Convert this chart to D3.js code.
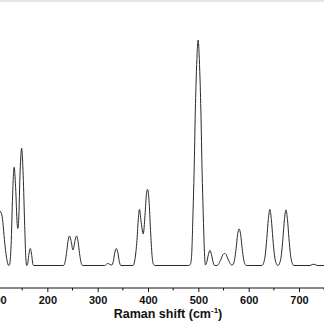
<!DOCTYPE html>
<html>
<head>
<meta charset="utf-8">
<script src="https://cdn.jsdelivr.net/npm/d3@7"></script>
<style>
  html, body { margin: 0; padding: 0; background: #fff; }
  svg { display: block; }
  text { font-family: "Liberation Sans", Arial, sans-serif; font-weight: bold; fill: #111; }
</style>
</head>
<body>
<svg id="chart" width="324" height="324"></svg>
<script>
// spectrum points (Raman shift, intensity in arb. units)
const shift = [
  100, 104, 106, 108, 111, 114, 117, 120, 123, 125, 128, 131, 134, 137, 140, 141.5, 143, 146, 149, 152, 155, 157, 159, 161, 163, 166, 169, 171, 173,
  232, 235, 238, 241, 244, 247, 251, 255, 258, 261, 264, 267, 270,
  314, 318, 321, 324, 328, 331, 334, 337, 340, 343, 346,
  370, 374, 378, 381, 383, 386, 390.5, 394, 397, 399, 402, 405, 408, 411, 414,
  480, 484, 486.5, 489.5, 491.5, 494, 496.5, 499.5, 502.5, 505, 507.5, 509.5, 512.5, 514, 517, 520, 523, 526, 529, 532,
  537, 542, 546, 549, 552, 555, 558, 562, 566, 569, 572, 575, 578, 581, 584, 587, 590, 593, 596,
  626, 630, 633, 636, 639, 642, 645, 648, 651, 654, 658, 662, 665, 668, 671, 674, 677, 680, 683, 686, 690,
  722, 726, 729, 732, 736, 760
];
const intensity = [
  40, 50, 54, 53, 46, 30, 15, 5, 0, 1, 20, 70, 98, 78, 42, 37, 45, 95, 117, 90, 40, 10, 0, 2, 10, 17, 10, 2, 0,
  0, 3, 12, 24, 29.5, 25, 15.5, 25, 29.5, 24, 12, 3, 0,
  0, 1.5, 2, 1, 0.5, 4, 13, 17, 13, 4, 0,
  0, 6, 25, 48, 56, 45, 31.5, 50, 72, 76, 65, 35, 10, 1, 0,
  0, 1, 9, 55, 92, 155, 198, 225, 198, 155, 92, 55, 9, 0.5, 4, 11, 15, 11, 4, 0,
  0, 3, 7.5, 11, 12, 11, 7.5, 3, 0.5, 1, 6, 17, 31, 36.5, 31, 17, 6, 1, 0,
  0, 3, 11, 27, 46, 56, 46, 27, 11, 3, 0, 3, 11, 27, 46, 55.5, 46, 27, 11, 3, 0,
  0, 1, 1.2, 1, 0, 0
];
const majorTicks = [100, 200, 300, 400, 500, 600, 700];
const minorTicks = [150, 250, 350, 450, 550, 650, 750];

const svg = d3.select('#chart');
svg.append('rect').attr('width', 324).attr('height', 324).attr('fill', '#fff');
// thin grey band along the top edge of the crop
svg.append('rect').attr('width', 324).attr('height', 2).attr('fill', '#e4e4e4');

const x = d3.scaleLinear().domain([100, 750]).range([-3, 324.2]);
const y = d3.scaleLinear().domain([0, 225]).range([265.5, 40]);
const axisY = 288;

const pts = shift.map((s, i) => [s, intensity[i]]);
const line = d3.line()
  .x(d => x(d[0]))
  .y(d => y(d[1]))
  .curve(d3.curveMonotoneX);

svg.append('path')
  .datum(pts)
  .attr('d', line)
  .attr('fill', 'none')
  .attr('stroke', '#2a2a2a')
  .attr('stroke-width', 1);

// bottom axis
const axis = d3.axisBottom(x)
  .tickValues(majorTicks)
  .tickSize(4)
  .tickPadding(4)
  .tickFormat(d3.format('d'));
const g = svg.append('g').attr('transform', `translate(0,${axisY})`).call(axis);
g.select('.domain').attr('d', `M${x(100)},0H${x(750)}`).attr('stroke', '#111');
g.selectAll('.tick line').attr('stroke', '#111');
g.selectAll('.tick text')
  .attr('font-family', '"Liberation Sans", Arial, sans-serif')
  .attr('font-weight', 'bold')
  .attr('font-size', 11)
  .attr('fill', '#111');

g.selectAll('.minor')
  .data(minorTicks)
  .join('line')
  .attr('class', 'minor')
  .attr('x1', d => x(d)).attr('x2', d => x(d))
  .attr('y1', 0).attr('y2', 2.5)
  .attr('stroke', '#111');

const title = svg.append('text')
  .attr('x', 168)
  .attr('y', 318)
  .attr('text-anchor', 'middle')
  .attr('font-size', 12.5);
title.append('tspan').text('Raman shift (cm');
title.append('tspan').attr('font-size', 8).attr('dy', -5).text('-1');
title.append('tspan').attr('dy', 5).text(')');
</script>
</body>
</html>
